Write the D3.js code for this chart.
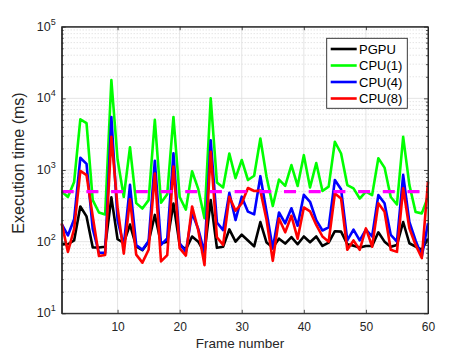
<!DOCTYPE html>
<html><head><meta charset="utf-8">
<script src="https://cdn.jsdelivr.net/npm/d3@7"></script>
<style>body{margin:0;background:#fff} svg{display:block}</style>
</head><body>
<svg id="c" width="474" height="355"></svg>
<script>
const frames = [1,2,3,4,5,6,7,8,9,10,11,12,13,14,15,16,17,18,19,20,21,22,23,24,25,26,27,28,29,30,
  31,32,33,34,35,36,37,38,39,40,41,42,43,44,45,46,47,48,49,50,51,52,53,54,55,56,57,58,59,60];
const pgpu = [92,92,104,310,225,83,83,85,415,108,96,173,86,76,100,236,95,100,340,90,
  78,118,100,70,381,82,85,148,100,125,104,86,188,97,83,110,94,116,92,118,
  98,118,87,97,140,138,92,88,83,87,87,135,100,85,90,188,95,85,77,110];
const cpu1 = [500,420,680,5100,4500,380,255,240,18000,1400,420,2080,345,290,380,5000,350,460,5500,420,
  280,960,540,212,10000,670,570,1700,770,1380,725,830,2750,800,315,735,600,1170,600,1610,
  570,1250,510,585,2480,1700,617,555,400,500,446,1460,1080,420,330,2900,620,260,248,424];
const cpu4 = [175,122,205,1480,1220,150,70,70,5500,200,88,620,90,77,102,1340,90,111,1710,95,
  72,250,150,70,2600,185,145,480,200,424,262,240,820,260,80,255,180,292,167,450,
  360,200,143,158,725,540,104,147,104,147,118,446,343,124,100,855,188,104,62,180];
const cpu8 = [180,72,150,970,850,225,63,65,2900,300,68,390,66,51,77,890,53,65,1120,81,
  64,310,143,47,1800,115,90,424,270,343,560,510,515,200,54,210,135,230,110,300,
  265,171,118,100,470,400,77,104,77,153,85,343,262,77,72,555,153,90,59,687];
const threshold = 500;
const seriesNames = ["PGPU","CPU(1)","CPU(4)","CPU(8)"];
const seriesColors = ["#000000","#00ff00","#0000ff","#ff0000"];
const xTicks = [10,20,30,40,50,60];
const yExponents = [1,2,3,4,5];
const xLabel = "Frame number";
const yLabel = "Execution time (ms)";

const series = [pgpu, cpu1, cpu4, cpu8];
const FONT = "'Liberation Sans', Arial, Helvetica, sans-serif";
const AX = "#262626";
const m = {l:61.7, r:428, t:26.7, b:313.3};
const x = d3.scaleLinear().domain([1,60]).range([m.l, m.r]);
const y = d3.scaleLog().domain([10,1e5]).range([m.b, m.t]);
const svg = d3.select("#c");
svg.append("rect").attr("width",474).attr("height",355).attr("fill","#fff");

// minor y values (log decades)
const minorY = [];
yExponents.slice(0,-1).forEach(e => { for (let d=2; d<=9; d++) minorY.push(d*Math.pow(10,e)); });
const majorY = yExponents.map(e => Math.pow(10,e));

const grid = svg.append("g");
grid.selectAll(".mn").data(minorY).join("line")
  .attr("x1",m.l).attr("x2",m.r).attr("y1",d=>y(d)).attr("y2",d=>y(d))
  .attr("stroke","#cfcfcf").attr("stroke-width",0.8).attr("stroke-dasharray","1,2");
grid.selectAll(".mj").data(majorY).join("line")
  .attr("x1",m.l).attr("x2",m.r).attr("y1",d=>y(d)).attr("y2",d=>y(d))
  .attr("stroke","#dedede").attr("stroke-width",0.8);
grid.selectAll(".vx").data(xTicks).join("line")
  .attr("x1",d=>x(d)).attr("x2",d=>x(d)).attr("y1",m.t).attr("y2",m.b)
  .attr("stroke","#dedede").attr("stroke-width",0.8);

// data lines
const line = d3.line().x((d,i)=>x(frames[i])).y(d=>y(d));
const plot = svg.append("g");
series.forEach((s,k) => {
  plot.append("path").datum(s).attr("d",line).attr("fill","none")
    .attr("stroke",seriesColors[k]).attr("stroke-width",2.6).attr("stroke-linejoin","round");
});
// threshold dashed line
plot.append("line").attr("x1",x(frames[0])).attr("x2",x(frames[frames.length-1]))
  .attr("y1",y(threshold)).attr("y2",y(threshold))
  .attr("stroke","#ff00ff").attr("stroke-width",3.2).attr("stroke-dasharray","12,12.7");

// axes
const xb = svg.append("g").attr("transform",`translate(0,${m.b})`)
  .call(d3.axisBottom(x).tickValues(xTicks).tickSize(-3.5).tickPadding(9).tickSizeOuter(0));
const xt = svg.append("g").attr("transform",`translate(0,${m.t})`)
  .call(d3.axisTop(x).tickValues(xTicks).tickSize(-3.5).tickFormat("").tickSizeOuter(0));
const yl = svg.append("g").attr("transform",`translate(${m.l},0)`)
  .call(d3.axisLeft(y).tickValues(majorY).tickSize(-4).tickFormat("").tickSizeOuter(0));
const yr = svg.append("g").attr("transform",`translate(${m.r},0)`)
  .call(d3.axisRight(y).tickValues(majorY).tickSize(-4).tickFormat("").tickSizeOuter(0));
const ylm = svg.append("g").attr("transform",`translate(${m.l},0)`)
  .call(d3.axisLeft(y).tickValues(minorY).tickSize(-2).tickFormat("").tickSizeOuter(0));
const yrm = svg.append("g").attr("transform",`translate(${m.r},0)`)
  .call(d3.axisRight(y).tickValues(minorY).tickSize(-2).tickFormat("").tickSizeOuter(0));
[xb,xt,yl,yr,ylm,yrm].forEach(g => {
  g.selectAll(".domain").attr("stroke",AX).attr("stroke-width",0.9);
  g.selectAll(".tick line").attr("stroke",AX).attr("stroke-width",0.8);
});
xb.selectAll("text").attr("font-family",FONT).attr("font-size",12).attr("fill",AX);

// y tick labels 10^n
yl.selectAll(".tick").each(function(d){
  const t = d3.select(this).append("text").attr("fill",AX).attr("font-family",FONT)
    .attr("text-anchor","end").attr("x",-6).attr("y",3.5);
  t.append("tspan").attr("font-size",12.5).attr("dy",0).text("10");
  t.append("tspan").attr("font-size",9).attr("dy",-6).text(Math.round(Math.log10(d)));
});

// frame box
svg.append("rect").attr("x",m.l).attr("y",m.t).attr("width",m.r-m.l).attr("height",m.b-m.t)
  .attr("fill","none").attr("stroke",AX).attr("stroke-width",0.9);

// axis labels
svg.append("text").attr("x",240).attr("y",347.5).attr("text-anchor","middle")
  .attr("font-family",FONT).attr("font-size",13.5).attr("fill",AX).text(xLabel);
svg.append("text").attr("transform","translate(24,163) rotate(-90)").attr("text-anchor","middle")
  .attr("font-family",FONT).attr("font-size",16).attr("fill",AX).text(yLabel);

// legend
const lg = svg.append("g");
lg.append("rect").attr("x",326.7).attr("y",38.3).attr("width",80.6).attr("height",70)
  .attr("fill","#fff").attr("stroke",AX).attr("stroke-width",0.9);
seriesNames.forEach((n,k) => {
  const yy = 49 + k*16.5;
  lg.append("line").attr("x1",330.7).attr("x2",356.7).attr("y1",yy).attr("y2",yy)
    .attr("stroke",seriesColors[k]).attr("stroke-width",2.6);
  lg.append("text").attr("x",359).attr("y",yy+4.5).attr("font-family",FONT)
    .attr("font-size",13).attr("fill","#000").text(n);
});
</script>
</body></html>
